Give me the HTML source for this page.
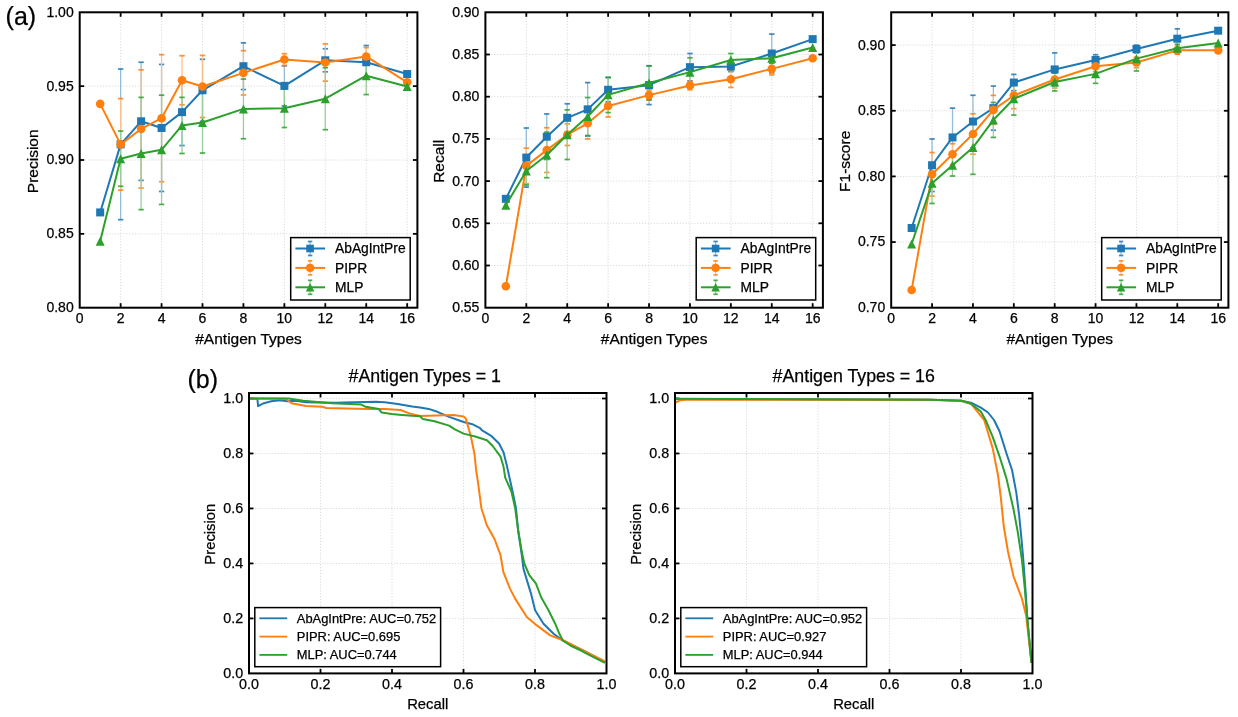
<!DOCTYPE html>
<html><head><meta charset="utf-8"><title>figure</title>
<style>html,body{margin:0;padding:0;background:#fff;width:1238px;height:717px;overflow:hidden}svg{display:block;will-change:transform}</style>
</head><body>
<svg width="1238" height="717" viewBox="0 0 1238 717" font-family='"Liberation Sans", sans-serif'><style>text{stroke:#000;stroke-width:0.25px}</style>
<rect width="1238" height="717" fill="#fff"/>
<line x1="120.63" y1="12.30" x2="120.63" y2="307.70" stroke="#d6d6d6" stroke-width="0.9" stroke-dasharray="1.2 1.7"/>
<line x1="161.57" y1="12.30" x2="161.57" y2="307.70" stroke="#d6d6d6" stroke-width="0.9" stroke-dasharray="1.2 1.7"/>
<line x1="202.50" y1="12.30" x2="202.50" y2="307.70" stroke="#d6d6d6" stroke-width="0.9" stroke-dasharray="1.2 1.7"/>
<line x1="243.43" y1="12.30" x2="243.43" y2="307.70" stroke="#d6d6d6" stroke-width="0.9" stroke-dasharray="1.2 1.7"/>
<line x1="284.37" y1="12.30" x2="284.37" y2="307.70" stroke="#d6d6d6" stroke-width="0.9" stroke-dasharray="1.2 1.7"/>
<line x1="325.30" y1="12.30" x2="325.30" y2="307.70" stroke="#d6d6d6" stroke-width="0.9" stroke-dasharray="1.2 1.7"/>
<line x1="366.23" y1="12.30" x2="366.23" y2="307.70" stroke="#d6d6d6" stroke-width="0.9" stroke-dasharray="1.2 1.7"/>
<line x1="407.17" y1="12.30" x2="407.17" y2="307.70" stroke="#d6d6d6" stroke-width="0.9" stroke-dasharray="1.2 1.7"/>
<line x1="79.70" y1="233.85" x2="417.40" y2="233.85" stroke="#d6d6d6" stroke-width="0.9" stroke-dasharray="1.2 1.7"/>
<line x1="79.70" y1="160.00" x2="417.40" y2="160.00" stroke="#d6d6d6" stroke-width="0.9" stroke-dasharray="1.2 1.7"/>
<line x1="79.70" y1="86.15" x2="417.40" y2="86.15" stroke="#d6d6d6" stroke-width="0.9" stroke-dasharray="1.2 1.7"/>
<line x1="120.63" y1="69.02" x2="120.63" y2="219.67" stroke="#94bcda" stroke-width="1.3"/>
<g stroke="#1f77b4" stroke-opacity="0.85">
<line x1="117.93" y1="69.02" x2="123.33" y2="69.02" stroke-width="1.7"/>
<line x1="117.93" y1="219.67" x2="123.33" y2="219.67" stroke-width="1.7"/>
</g>
<line x1="141.10" y1="62.22" x2="141.10" y2="180.38" stroke="#94bcda" stroke-width="1.3"/>
<g stroke="#1f77b4" stroke-opacity="0.85">
<line x1="138.40" y1="62.22" x2="143.80" y2="62.22" stroke-width="1.7"/>
<line x1="138.40" y1="180.38" x2="143.80" y2="180.38" stroke-width="1.7"/>
</g>
<line x1="161.57" y1="64.44" x2="161.57" y2="191.46" stroke="#94bcda" stroke-width="1.3"/>
<g stroke="#1f77b4" stroke-opacity="0.85">
<line x1="158.87" y1="64.44" x2="164.27" y2="64.44" stroke-width="1.7"/>
<line x1="158.87" y1="191.46" x2="164.27" y2="191.46" stroke-width="1.7"/>
</g>
<line x1="182.03" y1="78.77" x2="182.03" y2="145.53" stroke="#94bcda" stroke-width="1.3"/>
<g stroke="#1f77b4" stroke-opacity="0.85">
<line x1="179.33" y1="78.77" x2="184.73" y2="78.77" stroke-width="1.7"/>
<line x1="179.33" y1="145.53" x2="184.73" y2="145.53" stroke-width="1.7"/>
</g>
<line x1="202.50" y1="59.27" x2="202.50" y2="121.30" stroke="#94bcda" stroke-width="1.3"/>
<g stroke="#1f77b4" stroke-opacity="0.85">
<line x1="199.80" y1="59.27" x2="205.20" y2="59.27" stroke-width="1.7"/>
<line x1="199.80" y1="121.30" x2="205.20" y2="121.30" stroke-width="1.7"/>
</g>
<line x1="243.43" y1="42.87" x2="243.43" y2="89.55" stroke="#94bcda" stroke-width="1.3"/>
<g stroke="#1f77b4" stroke-opacity="0.85">
<line x1="240.73" y1="42.87" x2="246.13" y2="42.87" stroke-width="1.7"/>
<line x1="240.73" y1="89.55" x2="246.13" y2="89.55" stroke-width="1.7"/>
</g>
<line x1="284.37" y1="65.77" x2="284.37" y2="105.94" stroke="#94bcda" stroke-width="1.3"/>
<g stroke="#1f77b4" stroke-opacity="0.85">
<line x1="281.67" y1="65.77" x2="287.07" y2="65.77" stroke-width="1.7"/>
<line x1="281.67" y1="105.94" x2="287.07" y2="105.94" stroke-width="1.7"/>
</g>
<line x1="325.30" y1="48.78" x2="325.30" y2="71.82" stroke="#94bcda" stroke-width="1.3"/>
<g stroke="#1f77b4" stroke-opacity="0.85">
<line x1="322.60" y1="48.78" x2="328.00" y2="48.78" stroke-width="1.7"/>
<line x1="322.60" y1="71.82" x2="328.00" y2="71.82" stroke-width="1.7"/>
</g>
<line x1="366.23" y1="45.53" x2="366.23" y2="78.91" stroke="#94bcda" stroke-width="1.3"/>
<g stroke="#1f77b4" stroke-opacity="0.85">
<line x1="363.53" y1="45.53" x2="368.93" y2="45.53" stroke-width="1.7"/>
<line x1="363.53" y1="78.91" x2="368.93" y2="78.91" stroke-width="1.7"/>
</g>
<line x1="120.63" y1="98.56" x2="120.63" y2="190.13" stroke="#fdbf8c" stroke-width="1.3"/>
<g stroke="#ff7f0e" stroke-opacity="0.85">
<line x1="117.93" y1="98.56" x2="123.33" y2="98.56" stroke-width="1.7"/>
<line x1="117.93" y1="190.13" x2="123.33" y2="190.13" stroke-width="1.7"/>
</g>
<line x1="141.10" y1="69.90" x2="141.10" y2="188.06" stroke="#fdbf8c" stroke-width="1.3"/>
<g stroke="#ff7f0e" stroke-opacity="0.85">
<line x1="138.40" y1="69.90" x2="143.80" y2="69.90" stroke-width="1.7"/>
<line x1="138.40" y1="188.06" x2="143.80" y2="188.06" stroke-width="1.7"/>
</g>
<line x1="161.57" y1="54.69" x2="161.57" y2="181.71" stroke="#fdbf8c" stroke-width="1.3"/>
<g stroke="#ff7f0e" stroke-opacity="0.85">
<line x1="158.87" y1="54.69" x2="164.27" y2="54.69" stroke-width="1.7"/>
<line x1="158.87" y1="181.71" x2="164.27" y2="181.71" stroke-width="1.7"/>
</g>
<line x1="182.03" y1="55.72" x2="182.03" y2="104.76" stroke="#fdbf8c" stroke-width="1.3"/>
<g stroke="#ff7f0e" stroke-opacity="0.85">
<line x1="179.33" y1="55.72" x2="184.73" y2="55.72" stroke-width="1.7"/>
<line x1="179.33" y1="104.76" x2="184.73" y2="104.76" stroke-width="1.7"/>
</g>
<line x1="202.50" y1="55.43" x2="202.50" y2="117.46" stroke="#fdbf8c" stroke-width="1.3"/>
<g stroke="#ff7f0e" stroke-opacity="0.85">
<line x1="199.80" y1="55.43" x2="205.20" y2="55.43" stroke-width="1.7"/>
<line x1="199.80" y1="117.46" x2="205.20" y2="117.46" stroke-width="1.7"/>
</g>
<line x1="243.43" y1="50.70" x2="243.43" y2="95.01" stroke="#fdbf8c" stroke-width="1.3"/>
<g stroke="#ff7f0e" stroke-opacity="0.85">
<line x1="240.73" y1="50.70" x2="246.13" y2="50.70" stroke-width="1.7"/>
<line x1="240.73" y1="95.01" x2="246.13" y2="95.01" stroke-width="1.7"/>
</g>
<line x1="284.37" y1="53.66" x2="284.37" y2="65.47" stroke="#fdbf8c" stroke-width="1.3"/>
<g stroke="#ff7f0e" stroke-opacity="0.85">
<line x1="281.67" y1="53.66" x2="287.07" y2="53.66" stroke-width="1.7"/>
<line x1="281.67" y1="65.47" x2="287.07" y2="65.47" stroke-width="1.7"/>
</g>
<line x1="325.30" y1="43.91" x2="325.30" y2="81.13" stroke="#fdbf8c" stroke-width="1.3"/>
<g stroke="#ff7f0e" stroke-opacity="0.85">
<line x1="322.60" y1="43.91" x2="328.00" y2="43.91" stroke-width="1.7"/>
<line x1="322.60" y1="81.13" x2="328.00" y2="81.13" stroke-width="1.7"/>
</g>
<line x1="366.23" y1="47.60" x2="366.23" y2="65.32" stroke="#fdbf8c" stroke-width="1.3"/>
<g stroke="#ff7f0e" stroke-opacity="0.85">
<line x1="363.53" y1="47.60" x2="368.93" y2="47.60" stroke-width="1.7"/>
<line x1="363.53" y1="65.32" x2="368.93" y2="65.32" stroke-width="1.7"/>
</g>
<line x1="120.63" y1="131.05" x2="120.63" y2="186.29" stroke="#98cf98" stroke-width="1.3"/>
<g stroke="#2ca02c" stroke-opacity="0.85">
<line x1="117.93" y1="131.05" x2="123.33" y2="131.05" stroke-width="1.7"/>
<line x1="117.93" y1="186.29" x2="123.33" y2="186.29" stroke-width="1.7"/>
</g>
<line x1="141.10" y1="97.38" x2="141.10" y2="209.63" stroke="#98cf98" stroke-width="1.3"/>
<g stroke="#2ca02c" stroke-opacity="0.85">
<line x1="138.40" y1="97.38" x2="143.80" y2="97.38" stroke-width="1.7"/>
<line x1="138.40" y1="209.63" x2="143.80" y2="209.63" stroke-width="1.7"/>
</g>
<line x1="161.57" y1="95.16" x2="161.57" y2="204.46" stroke="#98cf98" stroke-width="1.3"/>
<g stroke="#2ca02c" stroke-opacity="0.85">
<line x1="158.87" y1="95.16" x2="164.27" y2="95.16" stroke-width="1.7"/>
<line x1="158.87" y1="204.46" x2="164.27" y2="204.46" stroke-width="1.7"/>
</g>
<line x1="182.03" y1="97.38" x2="182.03" y2="153.50" stroke="#98cf98" stroke-width="1.3"/>
<g stroke="#2ca02c" stroke-opacity="0.85">
<line x1="179.33" y1="97.38" x2="184.73" y2="97.38" stroke-width="1.7"/>
<line x1="179.33" y1="153.50" x2="184.73" y2="153.50" stroke-width="1.7"/>
</g>
<line x1="202.50" y1="91.91" x2="202.50" y2="153.06" stroke="#98cf98" stroke-width="1.3"/>
<g stroke="#2ca02c" stroke-opacity="0.85">
<line x1="199.80" y1="91.91" x2="205.20" y2="91.91" stroke-width="1.7"/>
<line x1="199.80" y1="153.06" x2="205.20" y2="153.06" stroke-width="1.7"/>
</g>
<line x1="243.43" y1="79.06" x2="243.43" y2="138.73" stroke="#98cf98" stroke-width="1.3"/>
<g stroke="#2ca02c" stroke-opacity="0.85">
<line x1="240.73" y1="79.06" x2="246.13" y2="79.06" stroke-width="1.7"/>
<line x1="240.73" y1="138.73" x2="246.13" y2="138.73" stroke-width="1.7"/>
</g>
<line x1="284.37" y1="89.10" x2="284.37" y2="127.51" stroke="#98cf98" stroke-width="1.3"/>
<g stroke="#2ca02c" stroke-opacity="0.85">
<line x1="281.67" y1="89.10" x2="287.07" y2="89.10" stroke-width="1.7"/>
<line x1="281.67" y1="127.51" x2="287.07" y2="127.51" stroke-width="1.7"/>
</g>
<line x1="325.30" y1="67.69" x2="325.30" y2="129.72" stroke="#98cf98" stroke-width="1.3"/>
<g stroke="#2ca02c" stroke-opacity="0.85">
<line x1="322.60" y1="67.69" x2="328.00" y2="67.69" stroke-width="1.7"/>
<line x1="322.60" y1="129.72" x2="328.00" y2="129.72" stroke-width="1.7"/>
</g>
<line x1="366.23" y1="56.76" x2="366.23" y2="94.57" stroke="#98cf98" stroke-width="1.3"/>
<g stroke="#2ca02c" stroke-opacity="0.85">
<line x1="363.53" y1="56.76" x2="368.93" y2="56.76" stroke-width="1.7"/>
<line x1="363.53" y1="94.57" x2="368.93" y2="94.57" stroke-width="1.7"/>
</g>
<polyline points="100.17,212.43 120.63,144.34 141.10,121.30 161.57,127.95 182.03,112.15 202.50,90.29 243.43,66.21 284.37,85.85 325.30,60.30 366.23,62.22 407.17,74.04" fill="none" stroke="#1f77b4" stroke-width="2" stroke-linejoin="round"/>
<rect x="96.17" y="208.43" width="8.00" height="8.00" fill="#1f77b4"/>
<rect x="116.63" y="140.34" width="8.00" height="8.00" fill="#1f77b4"/>
<rect x="137.10" y="117.30" width="8.00" height="8.00" fill="#1f77b4"/>
<rect x="157.57" y="123.95" width="8.00" height="8.00" fill="#1f77b4"/>
<rect x="178.03" y="108.15" width="8.00" height="8.00" fill="#1f77b4"/>
<rect x="198.50" y="86.29" width="8.00" height="8.00" fill="#1f77b4"/>
<rect x="239.43" y="62.21" width="8.00" height="8.00" fill="#1f77b4"/>
<rect x="280.37" y="81.85" width="8.00" height="8.00" fill="#1f77b4"/>
<rect x="321.30" y="56.30" width="8.00" height="8.00" fill="#1f77b4"/>
<rect x="362.23" y="58.22" width="8.00" height="8.00" fill="#1f77b4"/>
<rect x="403.17" y="70.04" width="8.00" height="8.00" fill="#1f77b4"/>
<polyline points="100.17,103.87 120.63,144.34 141.10,128.98 161.57,118.20 182.03,80.24 202.50,86.45 243.43,72.86 284.37,59.56 325.30,62.52 366.23,56.46 407.17,82.31" fill="none" stroke="#ff7f0e" stroke-width="2" stroke-linejoin="round"/>
<circle cx="100.17" cy="103.87" r="4.30" fill="#ff7f0e"/>
<circle cx="120.63" cy="144.34" r="4.30" fill="#ff7f0e"/>
<circle cx="141.10" cy="128.98" r="4.30" fill="#ff7f0e"/>
<circle cx="161.57" cy="118.20" r="4.30" fill="#ff7f0e"/>
<circle cx="182.03" cy="80.24" r="4.30" fill="#ff7f0e"/>
<circle cx="202.50" cy="86.45" r="4.30" fill="#ff7f0e"/>
<circle cx="243.43" cy="72.86" r="4.30" fill="#ff7f0e"/>
<circle cx="284.37" cy="59.56" r="4.30" fill="#ff7f0e"/>
<circle cx="325.30" cy="62.52" r="4.30" fill="#ff7f0e"/>
<circle cx="366.23" cy="56.46" r="4.30" fill="#ff7f0e"/>
<circle cx="407.17" cy="82.31" r="4.30" fill="#ff7f0e"/>
<polyline points="100.17,241.24 120.63,158.67 141.10,153.50 161.57,149.81 182.03,125.44 202.50,122.48 243.43,108.90 284.37,108.30 325.30,98.70 366.23,75.66 407.17,86.45" fill="none" stroke="#2ca02c" stroke-width="2" stroke-linejoin="round"/>
<polygon points="100.17,236.74 95.67,245.74 104.67,245.74" fill="#2ca02c"/>
<polygon points="120.63,154.17 116.13,163.17 125.13,163.17" fill="#2ca02c"/>
<polygon points="141.10,149.00 136.60,158.00 145.60,158.00" fill="#2ca02c"/>
<polygon points="161.57,145.31 157.07,154.31 166.07,154.31" fill="#2ca02c"/>
<polygon points="182.03,120.94 177.53,129.94 186.53,129.94" fill="#2ca02c"/>
<polygon points="202.50,117.98 198.00,126.98 207.00,126.98" fill="#2ca02c"/>
<polygon points="243.43,104.40 238.93,113.40 247.93,113.40" fill="#2ca02c"/>
<polygon points="284.37,103.80 279.87,112.80 288.87,112.80" fill="#2ca02c"/>
<polygon points="325.30,94.20 320.80,103.20 329.80,103.20" fill="#2ca02c"/>
<polygon points="366.23,71.16 361.73,80.16 370.73,80.16" fill="#2ca02c"/>
<polygon points="407.17,81.95 402.67,90.95 411.67,90.95" fill="#2ca02c"/>
<rect x="290.70" y="237.60" width="119.50" height="62.40" fill="#fff" stroke="#000" stroke-width="1.5"/>
<line x1="295.40" y1="248.50" x2="325.10" y2="248.50" stroke="#1f77b4" stroke-width="2"/>
<line x1="310.10" y1="241.50" x2="310.10" y2="255.50" stroke="#94bcda" stroke-width="1.3"/>
<g stroke="#1f77b4" stroke-opacity="0.85"><line x1="307.90" y1="241.50" x2="312.30" y2="241.50" stroke-width="1.7"/><line x1="307.90" y1="255.50" x2="312.30" y2="255.50" stroke-width="1.7"/></g>
<rect x="306.30" y="244.70" width="7.60" height="7.60" fill="#1f77b4"/>
<text x="335.00" y="253.10" font-size="13.8" text-anchor="start" fill="#000">AbAgIntPre</text>
<line x1="295.40" y1="267.90" x2="325.10" y2="267.90" stroke="#ff7f0e" stroke-width="2"/>
<line x1="310.10" y1="260.90" x2="310.10" y2="274.90" stroke="#fdbf8c" stroke-width="1.3"/>
<g stroke="#ff7f0e" stroke-opacity="0.85"><line x1="307.90" y1="260.90" x2="312.30" y2="260.90" stroke-width="1.7"/><line x1="307.90" y1="274.90" x2="312.30" y2="274.90" stroke-width="1.7"/></g>
<circle cx="310.10" cy="267.90" r="4.10" fill="#ff7f0e"/>
<text x="335.00" y="272.50" font-size="13.8" text-anchor="start" fill="#000">PIPR</text>
<line x1="295.40" y1="287.30" x2="325.10" y2="287.30" stroke="#2ca02c" stroke-width="2"/>
<line x1="310.10" y1="280.30" x2="310.10" y2="294.30" stroke="#98cf98" stroke-width="1.3"/>
<g stroke="#2ca02c" stroke-opacity="0.85"><line x1="307.90" y1="280.30" x2="312.30" y2="280.30" stroke-width="1.7"/><line x1="307.90" y1="294.30" x2="312.30" y2="294.30" stroke-width="1.7"/></g>
<polygon points="310.10,283.00 305.80,291.60 314.40,291.60" fill="#2ca02c"/>
<text x="335.00" y="291.90" font-size="13.8" text-anchor="start" fill="#000">MLP</text>
<line x1="120.63" y1="307.70" x2="120.63" y2="303.20" stroke="#000" stroke-width="1.8"/>
<line x1="120.63" y1="12.30" x2="120.63" y2="16.80" stroke="#000" stroke-width="1.8"/>
<line x1="161.57" y1="307.70" x2="161.57" y2="303.20" stroke="#000" stroke-width="1.8"/>
<line x1="161.57" y1="12.30" x2="161.57" y2="16.80" stroke="#000" stroke-width="1.8"/>
<line x1="202.50" y1="307.70" x2="202.50" y2="303.20" stroke="#000" stroke-width="1.8"/>
<line x1="202.50" y1="12.30" x2="202.50" y2="16.80" stroke="#000" stroke-width="1.8"/>
<line x1="243.43" y1="307.70" x2="243.43" y2="303.20" stroke="#000" stroke-width="1.8"/>
<line x1="243.43" y1="12.30" x2="243.43" y2="16.80" stroke="#000" stroke-width="1.8"/>
<line x1="284.37" y1="307.70" x2="284.37" y2="303.20" stroke="#000" stroke-width="1.8"/>
<line x1="284.37" y1="12.30" x2="284.37" y2="16.80" stroke="#000" stroke-width="1.8"/>
<line x1="325.30" y1="307.70" x2="325.30" y2="303.20" stroke="#000" stroke-width="1.8"/>
<line x1="325.30" y1="12.30" x2="325.30" y2="16.80" stroke="#000" stroke-width="1.8"/>
<line x1="366.23" y1="307.70" x2="366.23" y2="303.20" stroke="#000" stroke-width="1.8"/>
<line x1="366.23" y1="12.30" x2="366.23" y2="16.80" stroke="#000" stroke-width="1.8"/>
<line x1="407.17" y1="307.70" x2="407.17" y2="303.20" stroke="#000" stroke-width="1.8"/>
<line x1="407.17" y1="12.30" x2="407.17" y2="16.80" stroke="#000" stroke-width="1.8"/>
<line x1="79.70" y1="233.85" x2="84.20" y2="233.85" stroke="#000" stroke-width="1.8"/>
<line x1="417.40" y1="233.85" x2="412.90" y2="233.85" stroke="#000" stroke-width="1.8"/>
<line x1="79.70" y1="160.00" x2="84.20" y2="160.00" stroke="#000" stroke-width="1.8"/>
<line x1="417.40" y1="160.00" x2="412.90" y2="160.00" stroke="#000" stroke-width="1.8"/>
<line x1="79.70" y1="86.15" x2="84.20" y2="86.15" stroke="#000" stroke-width="1.8"/>
<line x1="417.40" y1="86.15" x2="412.90" y2="86.15" stroke="#000" stroke-width="1.8"/>
<rect x="79.70" y="12.30" width="337.70" height="295.40" fill="none" stroke="#000" stroke-width="2"/>
<text x="79.70" y="322.60" font-size="14" text-anchor="middle" fill="#000">0</text>
<text x="120.63" y="322.60" font-size="14" text-anchor="middle" fill="#000">2</text>
<text x="161.57" y="322.60" font-size="14" text-anchor="middle" fill="#000">4</text>
<text x="202.50" y="322.60" font-size="14" text-anchor="middle" fill="#000">6</text>
<text x="243.43" y="322.60" font-size="14" text-anchor="middle" fill="#000">8</text>
<text x="284.37" y="322.60" font-size="14" text-anchor="middle" fill="#000">10</text>
<text x="325.30" y="322.60" font-size="14" text-anchor="middle" fill="#000">12</text>
<text x="366.23" y="322.60" font-size="14" text-anchor="middle" fill="#000">14</text>
<text x="407.17" y="322.60" font-size="14" text-anchor="middle" fill="#000">16</text>
<text x="73.70" y="312.11" font-size="14" text-anchor="end" fill="#000">0.80</text>
<text x="73.70" y="238.26" font-size="14" text-anchor="end" fill="#000">0.85</text>
<text x="73.70" y="164.41" font-size="14" text-anchor="end" fill="#000">0.90</text>
<text x="73.70" y="90.56" font-size="14" text-anchor="end" fill="#000">0.95</text>
<text x="73.70" y="16.71" font-size="14" text-anchor="end" fill="#000">1.00</text>
<text x="248.55" y="343.80" font-size="15.5" text-anchor="middle" fill="#000">#Antigen Types</text>
<text x="38.50" y="161.30" font-size="15.5" text-anchor="middle" fill="#000" transform="rotate(-90 38.50 161.30)">Precision</text>
<line x1="526.31" y1="12.30" x2="526.31" y2="307.70" stroke="#d6d6d6" stroke-width="0.9" stroke-dasharray="1.2 1.7"/>
<line x1="567.22" y1="12.30" x2="567.22" y2="307.70" stroke="#d6d6d6" stroke-width="0.9" stroke-dasharray="1.2 1.7"/>
<line x1="608.13" y1="12.30" x2="608.13" y2="307.70" stroke="#d6d6d6" stroke-width="0.9" stroke-dasharray="1.2 1.7"/>
<line x1="649.04" y1="12.30" x2="649.04" y2="307.70" stroke="#d6d6d6" stroke-width="0.9" stroke-dasharray="1.2 1.7"/>
<line x1="689.95" y1="12.30" x2="689.95" y2="307.70" stroke="#d6d6d6" stroke-width="0.9" stroke-dasharray="1.2 1.7"/>
<line x1="730.85" y1="12.30" x2="730.85" y2="307.70" stroke="#d6d6d6" stroke-width="0.9" stroke-dasharray="1.2 1.7"/>
<line x1="771.76" y1="12.30" x2="771.76" y2="307.70" stroke="#d6d6d6" stroke-width="0.9" stroke-dasharray="1.2 1.7"/>
<line x1="812.67" y1="12.30" x2="812.67" y2="307.70" stroke="#d6d6d6" stroke-width="0.9" stroke-dasharray="1.2 1.7"/>
<line x1="485.40" y1="265.50" x2="822.90" y2="265.50" stroke="#d6d6d6" stroke-width="0.9" stroke-dasharray="1.2 1.7"/>
<line x1="485.40" y1="223.30" x2="822.90" y2="223.30" stroke="#d6d6d6" stroke-width="0.9" stroke-dasharray="1.2 1.7"/>
<line x1="485.40" y1="181.10" x2="822.90" y2="181.10" stroke="#d6d6d6" stroke-width="0.9" stroke-dasharray="1.2 1.7"/>
<line x1="485.40" y1="138.90" x2="822.90" y2="138.90" stroke="#d6d6d6" stroke-width="0.9" stroke-dasharray="1.2 1.7"/>
<line x1="485.40" y1="96.70" x2="822.90" y2="96.70" stroke="#d6d6d6" stroke-width="0.9" stroke-dasharray="1.2 1.7"/>
<line x1="485.40" y1="54.50" x2="822.90" y2="54.50" stroke="#d6d6d6" stroke-width="0.9" stroke-dasharray="1.2 1.7"/>
<line x1="526.31" y1="128.01" x2="526.31" y2="187.09" stroke="#94bcda" stroke-width="1.3"/>
<g stroke="#1f77b4" stroke-opacity="0.85">
<line x1="523.61" y1="128.01" x2="529.01" y2="128.01" stroke-width="1.7"/>
<line x1="523.61" y1="187.09" x2="529.01" y2="187.09" stroke-width="1.7"/>
</g>
<line x1="546.76" y1="113.92" x2="546.76" y2="159.49" stroke="#94bcda" stroke-width="1.3"/>
<g stroke="#1f77b4" stroke-opacity="0.85">
<line x1="544.06" y1="113.92" x2="549.46" y2="113.92" stroke-width="1.7"/>
<line x1="544.06" y1="159.49" x2="549.46" y2="159.49" stroke-width="1.7"/>
</g>
<line x1="567.22" y1="103.79" x2="567.22" y2="131.81" stroke="#94bcda" stroke-width="1.3"/>
<g stroke="#1f77b4" stroke-opacity="0.85">
<line x1="564.52" y1="103.79" x2="569.92" y2="103.79" stroke-width="1.7"/>
<line x1="564.52" y1="131.81" x2="569.92" y2="131.81" stroke-width="1.7"/>
</g>
<line x1="587.67" y1="82.61" x2="587.67" y2="136.11" stroke="#94bcda" stroke-width="1.3"/>
<g stroke="#1f77b4" stroke-opacity="0.85">
<line x1="584.97" y1="82.61" x2="590.37" y2="82.61" stroke-width="1.7"/>
<line x1="584.97" y1="136.11" x2="590.37" y2="136.11" stroke-width="1.7"/>
</g>
<line x1="608.13" y1="77.79" x2="608.13" y2="101.76" stroke="#94bcda" stroke-width="1.3"/>
<g stroke="#1f77b4" stroke-opacity="0.85">
<line x1="605.43" y1="77.79" x2="610.83" y2="77.79" stroke-width="1.7"/>
<line x1="605.43" y1="101.76" x2="610.83" y2="101.76" stroke-width="1.7"/>
</g>
<line x1="649.04" y1="65.73" x2="649.04" y2="104.55" stroke="#94bcda" stroke-width="1.3"/>
<g stroke="#1f77b4" stroke-opacity="0.85">
<line x1="646.34" y1="65.73" x2="651.74" y2="65.73" stroke-width="1.7"/>
<line x1="646.34" y1="104.55" x2="651.74" y2="104.55" stroke-width="1.7"/>
</g>
<line x1="689.95" y1="53.49" x2="689.95" y2="80.83" stroke="#94bcda" stroke-width="1.3"/>
<g stroke="#1f77b4" stroke-opacity="0.85">
<line x1="687.25" y1="53.49" x2="692.65" y2="53.49" stroke-width="1.7"/>
<line x1="687.25" y1="80.83" x2="692.65" y2="80.83" stroke-width="1.7"/>
</g>
<line x1="730.85" y1="61.51" x2="730.85" y2="71.63" stroke="#94bcda" stroke-width="1.3"/>
<g stroke="#1f77b4" stroke-opacity="0.85">
<line x1="728.15" y1="61.51" x2="733.55" y2="61.51" stroke-width="1.7"/>
<line x1="728.15" y1="71.63" x2="733.55" y2="71.63" stroke-width="1.7"/>
</g>
<line x1="771.76" y1="34.08" x2="771.76" y2="72.90" stroke="#94bcda" stroke-width="1.3"/>
<g stroke="#1f77b4" stroke-opacity="0.85">
<line x1="769.06" y1="34.08" x2="774.46" y2="34.08" stroke-width="1.7"/>
<line x1="769.06" y1="72.90" x2="774.46" y2="72.90" stroke-width="1.7"/>
</g>
<line x1="526.31" y1="148.18" x2="526.31" y2="183.63" stroke="#fdbf8c" stroke-width="1.3"/>
<g stroke="#ff7f0e" stroke-opacity="0.85">
<line x1="523.61" y1="148.18" x2="529.01" y2="148.18" stroke-width="1.7"/>
<line x1="523.61" y1="183.63" x2="529.01" y2="183.63" stroke-width="1.7"/>
</g>
<line x1="546.76" y1="127.76" x2="546.76" y2="172.49" stroke="#fdbf8c" stroke-width="1.3"/>
<g stroke="#ff7f0e" stroke-opacity="0.85">
<line x1="544.06" y1="127.76" x2="549.46" y2="127.76" stroke-width="1.7"/>
<line x1="544.06" y1="172.49" x2="549.46" y2="172.49" stroke-width="1.7"/>
</g>
<line x1="567.22" y1="123.88" x2="567.22" y2="145.48" stroke="#fdbf8c" stroke-width="1.3"/>
<g stroke="#ff7f0e" stroke-opacity="0.85">
<line x1="564.52" y1="123.88" x2="569.92" y2="123.88" stroke-width="1.7"/>
<line x1="564.52" y1="145.48" x2="569.92" y2="145.48" stroke-width="1.7"/>
</g>
<line x1="587.67" y1="107.59" x2="587.67" y2="138.98" stroke="#fdbf8c" stroke-width="1.3"/>
<g stroke="#ff7f0e" stroke-opacity="0.85">
<line x1="584.97" y1="107.59" x2="590.37" y2="107.59" stroke-width="1.7"/>
<line x1="584.97" y1="138.98" x2="590.37" y2="138.98" stroke-width="1.7"/>
</g>
<line x1="608.13" y1="95.10" x2="608.13" y2="116.87" stroke="#fdbf8c" stroke-width="1.3"/>
<g stroke="#ff7f0e" stroke-opacity="0.85">
<line x1="605.43" y1="95.10" x2="610.83" y2="95.10" stroke-width="1.7"/>
<line x1="605.43" y1="116.87" x2="610.83" y2="116.87" stroke-width="1.7"/>
</g>
<line x1="649.04" y1="90.03" x2="649.04" y2="100.16" stroke="#fdbf8c" stroke-width="1.3"/>
<g stroke="#ff7f0e" stroke-opacity="0.85">
<line x1="646.34" y1="90.03" x2="651.74" y2="90.03" stroke-width="1.7"/>
<line x1="646.34" y1="100.16" x2="651.74" y2="100.16" stroke-width="1.7"/>
</g>
<line x1="689.95" y1="81.34" x2="689.95" y2="89.78" stroke="#fdbf8c" stroke-width="1.3"/>
<g stroke="#ff7f0e" stroke-opacity="0.85">
<line x1="687.25" y1="81.34" x2="692.65" y2="81.34" stroke-width="1.7"/>
<line x1="687.25" y1="89.78" x2="692.65" y2="89.78" stroke-width="1.7"/>
</g>
<line x1="730.85" y1="71.04" x2="730.85" y2="87.42" stroke="#fdbf8c" stroke-width="1.3"/>
<g stroke="#ff7f0e" stroke-opacity="0.85">
<line x1="728.15" y1="71.04" x2="733.55" y2="71.04" stroke-width="1.7"/>
<line x1="728.15" y1="87.42" x2="733.55" y2="87.42" stroke-width="1.7"/>
</g>
<line x1="771.76" y1="62.77" x2="771.76" y2="74.92" stroke="#fdbf8c" stroke-width="1.3"/>
<g stroke="#ff7f0e" stroke-opacity="0.85">
<line x1="769.06" y1="62.77" x2="774.46" y2="62.77" stroke-width="1.7"/>
<line x1="769.06" y1="74.92" x2="774.46" y2="74.92" stroke-width="1.7"/>
</g>
<line x1="526.31" y1="156.96" x2="526.31" y2="184.98" stroke="#98cf98" stroke-width="1.3"/>
<g stroke="#2ca02c" stroke-opacity="0.85">
<line x1="523.61" y1="156.96" x2="529.01" y2="156.96" stroke-width="1.7"/>
<line x1="523.61" y1="184.98" x2="529.01" y2="184.98" stroke-width="1.7"/>
</g>
<line x1="546.76" y1="132.15" x2="546.76" y2="177.72" stroke="#98cf98" stroke-width="1.3"/>
<g stroke="#2ca02c" stroke-opacity="0.85">
<line x1="544.06" y1="132.15" x2="549.46" y2="132.15" stroke-width="1.7"/>
<line x1="544.06" y1="177.72" x2="549.46" y2="177.72" stroke-width="1.7"/>
</g>
<line x1="567.22" y1="109.87" x2="567.22" y2="159.49" stroke="#98cf98" stroke-width="1.3"/>
<g stroke="#2ca02c" stroke-opacity="0.85">
<line x1="564.52" y1="109.87" x2="569.92" y2="109.87" stroke-width="1.7"/>
<line x1="564.52" y1="159.49" x2="569.92" y2="159.49" stroke-width="1.7"/>
</g>
<line x1="587.67" y1="97.54" x2="587.67" y2="135.52" stroke="#98cf98" stroke-width="1.3"/>
<g stroke="#2ca02c" stroke-opacity="0.85">
<line x1="584.97" y1="97.54" x2="590.37" y2="97.54" stroke-width="1.7"/>
<line x1="584.97" y1="135.52" x2="590.37" y2="135.52" stroke-width="1.7"/>
</g>
<line x1="608.13" y1="77.12" x2="608.13" y2="112.57" stroke="#98cf98" stroke-width="1.3"/>
<g stroke="#2ca02c" stroke-opacity="0.85">
<line x1="605.43" y1="77.12" x2="610.83" y2="77.12" stroke-width="1.7"/>
<line x1="605.43" y1="112.57" x2="610.83" y2="112.57" stroke-width="1.7"/>
</g>
<line x1="649.04" y1="66.06" x2="649.04" y2="99.82" stroke="#98cf98" stroke-width="1.3"/>
<g stroke="#2ca02c" stroke-opacity="0.85">
<line x1="646.34" y1="66.06" x2="651.74" y2="66.06" stroke-width="1.7"/>
<line x1="646.34" y1="99.82" x2="651.74" y2="99.82" stroke-width="1.7"/>
</g>
<line x1="689.95" y1="57.79" x2="689.95" y2="86.49" stroke="#98cf98" stroke-width="1.3"/>
<g stroke="#2ca02c" stroke-opacity="0.85">
<line x1="687.25" y1="57.79" x2="692.65" y2="57.79" stroke-width="1.7"/>
<line x1="687.25" y1="86.49" x2="692.65" y2="86.49" stroke-width="1.7"/>
</g>
<line x1="730.85" y1="53.49" x2="730.85" y2="66.48" stroke="#98cf98" stroke-width="1.3"/>
<g stroke="#2ca02c" stroke-opacity="0.85">
<line x1="728.15" y1="53.49" x2="733.55" y2="53.49" stroke-width="1.7"/>
<line x1="728.15" y1="66.48" x2="733.55" y2="66.48" stroke-width="1.7"/>
</g>
<line x1="771.76" y1="53.15" x2="771.76" y2="63.28" stroke="#98cf98" stroke-width="1.3"/>
<g stroke="#2ca02c" stroke-opacity="0.85">
<line x1="769.06" y1="53.15" x2="774.46" y2="53.15" stroke-width="1.7"/>
<line x1="769.06" y1="63.28" x2="774.46" y2="63.28" stroke-width="1.7"/>
</g>
<polyline points="505.85,198.82 526.31,157.55 546.76,136.71 567.22,117.80 587.67,109.36 608.13,89.78 649.04,85.14 689.95,67.16 730.85,66.57 771.76,53.49 812.67,39.14" fill="none" stroke="#1f77b4" stroke-width="2" stroke-linejoin="round"/>
<rect x="501.85" y="194.82" width="8.00" height="8.00" fill="#1f77b4"/>
<rect x="522.31" y="153.55" width="8.00" height="8.00" fill="#1f77b4"/>
<rect x="542.76" y="132.71" width="8.00" height="8.00" fill="#1f77b4"/>
<rect x="563.22" y="113.80" width="8.00" height="8.00" fill="#1f77b4"/>
<rect x="583.67" y="105.36" width="8.00" height="8.00" fill="#1f77b4"/>
<rect x="604.13" y="85.78" width="8.00" height="8.00" fill="#1f77b4"/>
<rect x="645.04" y="81.14" width="8.00" height="8.00" fill="#1f77b4"/>
<rect x="685.95" y="63.16" width="8.00" height="8.00" fill="#1f77b4"/>
<rect x="726.85" y="62.57" width="8.00" height="8.00" fill="#1f77b4"/>
<rect x="767.76" y="49.49" width="8.00" height="8.00" fill="#1f77b4"/>
<rect x="808.67" y="35.14" width="8.00" height="8.00" fill="#1f77b4"/>
<polyline points="505.85,286.18 526.31,165.91 546.76,150.13 567.22,134.68 587.67,123.29 608.13,105.98 649.04,95.10 689.95,85.56 730.85,79.23 771.76,68.85 812.67,58.21" fill="none" stroke="#ff7f0e" stroke-width="2" stroke-linejoin="round"/>
<circle cx="505.85" cy="286.18" r="4.30" fill="#ff7f0e"/>
<circle cx="526.31" cy="165.91" r="4.30" fill="#ff7f0e"/>
<circle cx="546.76" cy="150.13" r="4.30" fill="#ff7f0e"/>
<circle cx="567.22" cy="134.68" r="4.30" fill="#ff7f0e"/>
<circle cx="587.67" cy="123.29" r="4.30" fill="#ff7f0e"/>
<circle cx="608.13" cy="105.98" r="4.30" fill="#ff7f0e"/>
<circle cx="649.04" cy="95.10" r="4.30" fill="#ff7f0e"/>
<circle cx="689.95" cy="85.56" r="4.30" fill="#ff7f0e"/>
<circle cx="730.85" cy="79.23" r="4.30" fill="#ff7f0e"/>
<circle cx="771.76" cy="68.85" r="4.30" fill="#ff7f0e"/>
<circle cx="812.67" cy="58.21" r="4.30" fill="#ff7f0e"/>
<polyline points="505.85,205.15 526.31,170.97 546.76,154.94 567.22,134.68 587.67,116.53 608.13,94.84 649.04,82.94 689.95,72.14 730.85,59.99 771.76,58.21 812.67,47.58" fill="none" stroke="#2ca02c" stroke-width="2" stroke-linejoin="round"/>
<polygon points="505.85,200.65 501.35,209.65 510.35,209.65" fill="#2ca02c"/>
<polygon points="526.31,166.47 521.81,175.47 530.81,175.47" fill="#2ca02c"/>
<polygon points="546.76,150.44 542.26,159.44 551.26,159.44" fill="#2ca02c"/>
<polygon points="567.22,130.18 562.72,139.18 571.72,139.18" fill="#2ca02c"/>
<polygon points="587.67,112.03 583.17,121.03 592.17,121.03" fill="#2ca02c"/>
<polygon points="608.13,90.34 603.63,99.34 612.63,99.34" fill="#2ca02c"/>
<polygon points="649.04,78.44 644.54,87.44 653.54,87.44" fill="#2ca02c"/>
<polygon points="689.95,67.64 685.45,76.64 694.45,76.64" fill="#2ca02c"/>
<polygon points="730.85,55.49 726.35,64.49 735.35,64.49" fill="#2ca02c"/>
<polygon points="771.76,53.71 767.26,62.71 776.26,62.71" fill="#2ca02c"/>
<polygon points="812.67,43.08 808.17,52.08 817.17,52.08" fill="#2ca02c"/>
<rect x="696.20" y="237.60" width="119.50" height="62.40" fill="#fff" stroke="#000" stroke-width="1.5"/>
<line x1="700.90" y1="248.50" x2="730.60" y2="248.50" stroke="#1f77b4" stroke-width="2"/>
<line x1="715.60" y1="241.50" x2="715.60" y2="255.50" stroke="#94bcda" stroke-width="1.3"/>
<g stroke="#1f77b4" stroke-opacity="0.85"><line x1="713.40" y1="241.50" x2="717.80" y2="241.50" stroke-width="1.7"/><line x1="713.40" y1="255.50" x2="717.80" y2="255.50" stroke-width="1.7"/></g>
<rect x="711.80" y="244.70" width="7.60" height="7.60" fill="#1f77b4"/>
<text x="740.50" y="253.10" font-size="13.8" text-anchor="start" fill="#000">AbAgIntPre</text>
<line x1="700.90" y1="267.90" x2="730.60" y2="267.90" stroke="#ff7f0e" stroke-width="2"/>
<line x1="715.60" y1="260.90" x2="715.60" y2="274.90" stroke="#fdbf8c" stroke-width="1.3"/>
<g stroke="#ff7f0e" stroke-opacity="0.85"><line x1="713.40" y1="260.90" x2="717.80" y2="260.90" stroke-width="1.7"/><line x1="713.40" y1="274.90" x2="717.80" y2="274.90" stroke-width="1.7"/></g>
<circle cx="715.60" cy="267.90" r="4.10" fill="#ff7f0e"/>
<text x="740.50" y="272.50" font-size="13.8" text-anchor="start" fill="#000">PIPR</text>
<line x1="700.90" y1="287.30" x2="730.60" y2="287.30" stroke="#2ca02c" stroke-width="2"/>
<line x1="715.60" y1="280.30" x2="715.60" y2="294.30" stroke="#98cf98" stroke-width="1.3"/>
<g stroke="#2ca02c" stroke-opacity="0.85"><line x1="713.40" y1="280.30" x2="717.80" y2="280.30" stroke-width="1.7"/><line x1="713.40" y1="294.30" x2="717.80" y2="294.30" stroke-width="1.7"/></g>
<polygon points="715.60,283.00 711.30,291.60 719.90,291.60" fill="#2ca02c"/>
<text x="740.50" y="291.90" font-size="13.8" text-anchor="start" fill="#000">MLP</text>
<line x1="526.31" y1="307.70" x2="526.31" y2="303.20" stroke="#000" stroke-width="1.8"/>
<line x1="526.31" y1="12.30" x2="526.31" y2="16.80" stroke="#000" stroke-width="1.8"/>
<line x1="567.22" y1="307.70" x2="567.22" y2="303.20" stroke="#000" stroke-width="1.8"/>
<line x1="567.22" y1="12.30" x2="567.22" y2="16.80" stroke="#000" stroke-width="1.8"/>
<line x1="608.13" y1="307.70" x2="608.13" y2="303.20" stroke="#000" stroke-width="1.8"/>
<line x1="608.13" y1="12.30" x2="608.13" y2="16.80" stroke="#000" stroke-width="1.8"/>
<line x1="649.04" y1="307.70" x2="649.04" y2="303.20" stroke="#000" stroke-width="1.8"/>
<line x1="649.04" y1="12.30" x2="649.04" y2="16.80" stroke="#000" stroke-width="1.8"/>
<line x1="689.95" y1="307.70" x2="689.95" y2="303.20" stroke="#000" stroke-width="1.8"/>
<line x1="689.95" y1="12.30" x2="689.95" y2="16.80" stroke="#000" stroke-width="1.8"/>
<line x1="730.85" y1="307.70" x2="730.85" y2="303.20" stroke="#000" stroke-width="1.8"/>
<line x1="730.85" y1="12.30" x2="730.85" y2="16.80" stroke="#000" stroke-width="1.8"/>
<line x1="771.76" y1="307.70" x2="771.76" y2="303.20" stroke="#000" stroke-width="1.8"/>
<line x1="771.76" y1="12.30" x2="771.76" y2="16.80" stroke="#000" stroke-width="1.8"/>
<line x1="812.67" y1="307.70" x2="812.67" y2="303.20" stroke="#000" stroke-width="1.8"/>
<line x1="812.67" y1="12.30" x2="812.67" y2="16.80" stroke="#000" stroke-width="1.8"/>
<line x1="485.40" y1="265.50" x2="489.90" y2="265.50" stroke="#000" stroke-width="1.8"/>
<line x1="822.90" y1="265.50" x2="818.40" y2="265.50" stroke="#000" stroke-width="1.8"/>
<line x1="485.40" y1="223.30" x2="489.90" y2="223.30" stroke="#000" stroke-width="1.8"/>
<line x1="822.90" y1="223.30" x2="818.40" y2="223.30" stroke="#000" stroke-width="1.8"/>
<line x1="485.40" y1="181.10" x2="489.90" y2="181.10" stroke="#000" stroke-width="1.8"/>
<line x1="822.90" y1="181.10" x2="818.40" y2="181.10" stroke="#000" stroke-width="1.8"/>
<line x1="485.40" y1="138.90" x2="489.90" y2="138.90" stroke="#000" stroke-width="1.8"/>
<line x1="822.90" y1="138.90" x2="818.40" y2="138.90" stroke="#000" stroke-width="1.8"/>
<line x1="485.40" y1="96.70" x2="489.90" y2="96.70" stroke="#000" stroke-width="1.8"/>
<line x1="822.90" y1="96.70" x2="818.40" y2="96.70" stroke="#000" stroke-width="1.8"/>
<line x1="485.40" y1="54.50" x2="489.90" y2="54.50" stroke="#000" stroke-width="1.8"/>
<line x1="822.90" y1="54.50" x2="818.40" y2="54.50" stroke="#000" stroke-width="1.8"/>
<rect x="485.40" y="12.30" width="337.50" height="295.40" fill="none" stroke="#000" stroke-width="2"/>
<text x="485.40" y="322.60" font-size="14" text-anchor="middle" fill="#000">0</text>
<text x="526.31" y="322.60" font-size="14" text-anchor="middle" fill="#000">2</text>
<text x="567.22" y="322.60" font-size="14" text-anchor="middle" fill="#000">4</text>
<text x="608.13" y="322.60" font-size="14" text-anchor="middle" fill="#000">6</text>
<text x="649.04" y="322.60" font-size="14" text-anchor="middle" fill="#000">8</text>
<text x="689.95" y="322.60" font-size="14" text-anchor="middle" fill="#000">10</text>
<text x="730.85" y="322.60" font-size="14" text-anchor="middle" fill="#000">12</text>
<text x="771.76" y="322.60" font-size="14" text-anchor="middle" fill="#000">14</text>
<text x="812.67" y="322.60" font-size="14" text-anchor="middle" fill="#000">16</text>
<text x="479.40" y="312.11" font-size="14" text-anchor="end" fill="#000">0.55</text>
<text x="479.40" y="269.91" font-size="14" text-anchor="end" fill="#000">0.60</text>
<text x="479.40" y="227.71" font-size="14" text-anchor="end" fill="#000">0.65</text>
<text x="479.40" y="185.51" font-size="14" text-anchor="end" fill="#000">0.70</text>
<text x="479.40" y="143.31" font-size="14" text-anchor="end" fill="#000">0.75</text>
<text x="479.40" y="101.11" font-size="14" text-anchor="end" fill="#000">0.80</text>
<text x="479.40" y="58.91" font-size="14" text-anchor="end" fill="#000">0.85</text>
<text x="479.40" y="16.71" font-size="14" text-anchor="end" fill="#000">0.90</text>
<text x="654.15" y="343.80" font-size="15.5" text-anchor="middle" fill="#000">#Antigen Types</text>
<text x="444.20" y="161.30" font-size="15.5" text-anchor="middle" fill="#000" transform="rotate(-90 444.20 161.30)">Recall</text>
<line x1="932.07" y1="12.30" x2="932.07" y2="307.70" stroke="#d6d6d6" stroke-width="0.9" stroke-dasharray="1.2 1.7"/>
<line x1="972.95" y1="12.30" x2="972.95" y2="307.70" stroke="#d6d6d6" stroke-width="0.9" stroke-dasharray="1.2 1.7"/>
<line x1="1013.82" y1="12.30" x2="1013.82" y2="307.70" stroke="#d6d6d6" stroke-width="0.9" stroke-dasharray="1.2 1.7"/>
<line x1="1054.69" y1="12.30" x2="1054.69" y2="307.70" stroke="#d6d6d6" stroke-width="0.9" stroke-dasharray="1.2 1.7"/>
<line x1="1095.56" y1="12.30" x2="1095.56" y2="307.70" stroke="#d6d6d6" stroke-width="0.9" stroke-dasharray="1.2 1.7"/>
<line x1="1136.44" y1="12.30" x2="1136.44" y2="307.70" stroke="#d6d6d6" stroke-width="0.9" stroke-dasharray="1.2 1.7"/>
<line x1="1177.31" y1="12.30" x2="1177.31" y2="307.70" stroke="#d6d6d6" stroke-width="0.9" stroke-dasharray="1.2 1.7"/>
<line x1="1218.18" y1="12.30" x2="1218.18" y2="307.70" stroke="#d6d6d6" stroke-width="0.9" stroke-dasharray="1.2 1.7"/>
<line x1="891.20" y1="242.06" x2="1228.40" y2="242.06" stroke="#d6d6d6" stroke-width="0.9" stroke-dasharray="1.2 1.7"/>
<line x1="891.20" y1="176.41" x2="1228.40" y2="176.41" stroke="#d6d6d6" stroke-width="0.9" stroke-dasharray="1.2 1.7"/>
<line x1="891.20" y1="110.77" x2="1228.40" y2="110.77" stroke="#d6d6d6" stroke-width="0.9" stroke-dasharray="1.2 1.7"/>
<line x1="891.20" y1="45.12" x2="1228.40" y2="45.12" stroke="#d6d6d6" stroke-width="0.9" stroke-dasharray="1.2 1.7"/>
<line x1="932.07" y1="138.99" x2="932.07" y2="191.51" stroke="#94bcda" stroke-width="1.3"/>
<g stroke="#1f77b4" stroke-opacity="0.85">
<line x1="929.37" y1="138.99" x2="934.77" y2="138.99" stroke-width="1.7"/>
<line x1="929.37" y1="191.51" x2="934.77" y2="191.51" stroke-width="1.7"/>
</g>
<line x1="952.51" y1="108.14" x2="952.51" y2="166.70" stroke="#94bcda" stroke-width="1.3"/>
<g stroke="#1f77b4" stroke-opacity="0.85">
<line x1="949.81" y1="108.14" x2="955.21" y2="108.14" stroke-width="1.7"/>
<line x1="949.81" y1="166.70" x2="955.21" y2="166.70" stroke-width="1.7"/>
</g>
<line x1="972.95" y1="95.27" x2="972.95" y2="147.79" stroke="#94bcda" stroke-width="1.3"/>
<g stroke="#1f77b4" stroke-opacity="0.85">
<line x1="970.25" y1="95.27" x2="975.65" y2="95.27" stroke-width="1.7"/>
<line x1="970.25" y1="147.79" x2="975.65" y2="147.79" stroke-width="1.7"/>
</g>
<line x1="993.38" y1="86.08" x2="993.38" y2="130.20" stroke="#94bcda" stroke-width="1.3"/>
<g stroke="#1f77b4" stroke-opacity="0.85">
<line x1="990.68" y1="86.08" x2="996.08" y2="86.08" stroke-width="1.7"/>
<line x1="990.68" y1="130.20" x2="996.08" y2="130.20" stroke-width="1.7"/>
</g>
<line x1="1013.82" y1="74.40" x2="1013.82" y2="90.68" stroke="#94bcda" stroke-width="1.3"/>
<g stroke="#1f77b4" stroke-opacity="0.85">
<line x1="1011.12" y1="74.40" x2="1016.52" y2="74.40" stroke-width="1.7"/>
<line x1="1011.12" y1="90.68" x2="1016.52" y2="90.68" stroke-width="1.7"/>
</g>
<line x1="1054.69" y1="52.87" x2="1054.69" y2="85.95" stroke="#94bcda" stroke-width="1.3"/>
<g stroke="#1f77b4" stroke-opacity="0.85">
<line x1="1051.99" y1="52.87" x2="1057.39" y2="52.87" stroke-width="1.7"/>
<line x1="1051.99" y1="85.95" x2="1057.39" y2="85.95" stroke-width="1.7"/>
</g>
<line x1="1095.56" y1="54.71" x2="1095.56" y2="65.21" stroke="#94bcda" stroke-width="1.3"/>
<g stroke="#1f77b4" stroke-opacity="0.85">
<line x1="1092.86" y1="54.71" x2="1098.26" y2="54.71" stroke-width="1.7"/>
<line x1="1092.86" y1="65.21" x2="1098.26" y2="65.21" stroke-width="1.7"/>
</g>
<line x1="1136.44" y1="45.12" x2="1136.44" y2="53.00" stroke="#94bcda" stroke-width="1.3"/>
<g stroke="#1f77b4" stroke-opacity="0.85">
<line x1="1133.74" y1="45.12" x2="1139.14" y2="45.12" stroke-width="1.7"/>
<line x1="1133.74" y1="53.00" x2="1139.14" y2="53.00" stroke-width="1.7"/>
</g>
<line x1="1177.31" y1="28.84" x2="1177.31" y2="48.54" stroke="#94bcda" stroke-width="1.3"/>
<g stroke="#1f77b4" stroke-opacity="0.85">
<line x1="1174.61" y1="28.84" x2="1180.01" y2="28.84" stroke-width="1.7"/>
<line x1="1174.61" y1="48.54" x2="1180.01" y2="48.54" stroke-width="1.7"/>
</g>
<line x1="932.07" y1="152.52" x2="932.07" y2="196.10" stroke="#fdbf8c" stroke-width="1.3"/>
<g stroke="#ff7f0e" stroke-opacity="0.85">
<line x1="929.37" y1="152.52" x2="934.77" y2="152.52" stroke-width="1.7"/>
<line x1="929.37" y1="196.10" x2="934.77" y2="196.10" stroke-width="1.7"/>
</g>
<line x1="952.51" y1="143.72" x2="952.51" y2="164.73" stroke="#fdbf8c" stroke-width="1.3"/>
<g stroke="#ff7f0e" stroke-opacity="0.85">
<line x1="949.81" y1="143.72" x2="955.21" y2="143.72" stroke-width="1.7"/>
<line x1="949.81" y1="164.73" x2="955.21" y2="164.73" stroke-width="1.7"/>
</g>
<line x1="972.95" y1="113.79" x2="972.95" y2="154.22" stroke="#fdbf8c" stroke-width="1.3"/>
<g stroke="#ff7f0e" stroke-opacity="0.85">
<line x1="970.25" y1="113.79" x2="975.65" y2="113.79" stroke-width="1.7"/>
<line x1="970.25" y1="154.22" x2="975.65" y2="154.22" stroke-width="1.7"/>
</g>
<line x1="993.38" y1="95.41" x2="993.38" y2="124.29" stroke="#fdbf8c" stroke-width="1.3"/>
<g stroke="#ff7f0e" stroke-opacity="0.85">
<line x1="990.68" y1="95.41" x2="996.08" y2="95.41" stroke-width="1.7"/>
<line x1="990.68" y1="124.29" x2="996.08" y2="124.29" stroke-width="1.7"/>
</g>
<line x1="1013.82" y1="82.41" x2="1013.82" y2="108.67" stroke="#fdbf8c" stroke-width="1.3"/>
<g stroke="#ff7f0e" stroke-opacity="0.85">
<line x1="1011.12" y1="82.41" x2="1016.52" y2="82.41" stroke-width="1.7"/>
<line x1="1011.12" y1="108.67" x2="1016.52" y2="108.67" stroke-width="1.7"/>
</g>
<line x1="1054.69" y1="70.99" x2="1054.69" y2="88.05" stroke="#fdbf8c" stroke-width="1.3"/>
<g stroke="#ff7f0e" stroke-opacity="0.85">
<line x1="1051.99" y1="70.99" x2="1057.39" y2="70.99" stroke-width="1.7"/>
<line x1="1051.99" y1="88.05" x2="1057.39" y2="88.05" stroke-width="1.7"/>
</g>
<line x1="1095.56" y1="61.01" x2="1095.56" y2="71.51" stroke="#fdbf8c" stroke-width="1.3"/>
<g stroke="#ff7f0e" stroke-opacity="0.85">
<line x1="1092.86" y1="61.01" x2="1098.26" y2="61.01" stroke-width="1.7"/>
<line x1="1092.86" y1="71.51" x2="1098.26" y2="71.51" stroke-width="1.7"/>
</g>
<line x1="1136.44" y1="57.20" x2="1136.44" y2="67.70" stroke="#fdbf8c" stroke-width="1.3"/>
<g stroke="#ff7f0e" stroke-opacity="0.85">
<line x1="1133.74" y1="57.20" x2="1139.14" y2="57.20" stroke-width="1.7"/>
<line x1="1133.74" y1="67.70" x2="1139.14" y2="67.70" stroke-width="1.7"/>
</g>
<line x1="1177.31" y1="46.44" x2="1177.31" y2="54.31" stroke="#fdbf8c" stroke-width="1.3"/>
<g stroke="#ff7f0e" stroke-opacity="0.85">
<line x1="1174.61" y1="46.44" x2="1180.01" y2="46.44" stroke-width="1.7"/>
<line x1="1174.61" y1="54.31" x2="1180.01" y2="54.31" stroke-width="1.7"/>
</g>
<line x1="932.07" y1="163.28" x2="932.07" y2="203.46" stroke="#98cf98" stroke-width="1.3"/>
<g stroke="#2ca02c" stroke-opacity="0.85">
<line x1="929.37" y1="163.28" x2="934.77" y2="163.28" stroke-width="1.7"/>
<line x1="929.37" y1="203.46" x2="934.77" y2="203.46" stroke-width="1.7"/>
</g>
<line x1="952.51" y1="154.49" x2="952.51" y2="176.02" stroke="#98cf98" stroke-width="1.3"/>
<g stroke="#2ca02c" stroke-opacity="0.85">
<line x1="949.81" y1="154.49" x2="955.21" y2="154.49" stroke-width="1.7"/>
<line x1="949.81" y1="176.02" x2="955.21" y2="176.02" stroke-width="1.7"/>
</g>
<line x1="972.95" y1="120.74" x2="972.95" y2="174.31" stroke="#98cf98" stroke-width="1.3"/>
<g stroke="#2ca02c" stroke-opacity="0.85">
<line x1="970.25" y1="120.74" x2="975.65" y2="120.74" stroke-width="1.7"/>
<line x1="970.25" y1="174.31" x2="975.65" y2="174.31" stroke-width="1.7"/>
</g>
<line x1="993.38" y1="102.50" x2="993.38" y2="137.42" stroke="#98cf98" stroke-width="1.3"/>
<g stroke="#2ca02c" stroke-opacity="0.85">
<line x1="990.68" y1="102.50" x2="996.08" y2="102.50" stroke-width="1.7"/>
<line x1="990.68" y1="137.42" x2="996.08" y2="137.42" stroke-width="1.7"/>
</g>
<line x1="1013.82" y1="82.28" x2="1013.82" y2="115.10" stroke="#98cf98" stroke-width="1.3"/>
<g stroke="#2ca02c" stroke-opacity="0.85">
<line x1="1011.12" y1="82.28" x2="1016.52" y2="82.28" stroke-width="1.7"/>
<line x1="1011.12" y1="115.10" x2="1016.52" y2="115.10" stroke-width="1.7"/>
</g>
<line x1="1054.69" y1="73.09" x2="1054.69" y2="90.94" stroke="#98cf98" stroke-width="1.3"/>
<g stroke="#2ca02c" stroke-opacity="0.85">
<line x1="1051.99" y1="73.09" x2="1057.39" y2="73.09" stroke-width="1.7"/>
<line x1="1051.99" y1="90.94" x2="1057.39" y2="90.94" stroke-width="1.7"/>
</g>
<line x1="1095.56" y1="64.42" x2="1095.56" y2="83.33" stroke="#98cf98" stroke-width="1.3"/>
<g stroke="#2ca02c" stroke-opacity="0.85">
<line x1="1092.86" y1="64.42" x2="1098.26" y2="64.42" stroke-width="1.7"/>
<line x1="1092.86" y1="83.33" x2="1098.26" y2="83.33" stroke-width="1.7"/>
</g>
<line x1="1136.44" y1="46.30" x2="1136.44" y2="70.99" stroke="#98cf98" stroke-width="1.3"/>
<g stroke="#2ca02c" stroke-opacity="0.85">
<line x1="1133.74" y1="46.30" x2="1139.14" y2="46.30" stroke-width="1.7"/>
<line x1="1133.74" y1="70.99" x2="1139.14" y2="70.99" stroke-width="1.7"/>
</g>
<line x1="1177.31" y1="44.33" x2="1177.31" y2="52.21" stroke="#98cf98" stroke-width="1.3"/>
<g stroke="#2ca02c" stroke-opacity="0.85">
<line x1="1174.61" y1="44.33" x2="1180.01" y2="44.33" stroke-width="1.7"/>
<line x1="1174.61" y1="52.21" x2="1180.01" y2="52.21" stroke-width="1.7"/>
</g>
<polyline points="911.64,228.01 932.07,165.25 952.51,137.42 972.95,121.53 993.38,108.14 1013.82,82.54 1054.69,69.41 1095.56,59.96 1136.44,49.06 1177.31,38.69 1218.18,30.68" fill="none" stroke="#1f77b4" stroke-width="2" stroke-linejoin="round"/>
<rect x="907.64" y="224.01" width="8.00" height="8.00" fill="#1f77b4"/>
<rect x="928.07" y="161.25" width="8.00" height="8.00" fill="#1f77b4"/>
<rect x="948.51" y="133.42" width="8.00" height="8.00" fill="#1f77b4"/>
<rect x="968.95" y="117.53" width="8.00" height="8.00" fill="#1f77b4"/>
<rect x="989.38" y="104.14" width="8.00" height="8.00" fill="#1f77b4"/>
<rect x="1009.82" y="78.54" width="8.00" height="8.00" fill="#1f77b4"/>
<rect x="1050.69" y="65.41" width="8.00" height="8.00" fill="#1f77b4"/>
<rect x="1091.56" y="55.96" width="8.00" height="8.00" fill="#1f77b4"/>
<rect x="1132.44" y="45.06" width="8.00" height="8.00" fill="#1f77b4"/>
<rect x="1173.31" y="34.69" width="8.00" height="8.00" fill="#1f77b4"/>
<rect x="1214.18" y="26.68" width="8.00" height="8.00" fill="#1f77b4"/>
<polyline points="911.64,289.98 932.07,174.31 952.51,154.22 972.95,134.00 993.38,109.85 1013.82,95.54 1054.69,79.52 1095.56,66.26 1136.44,62.45 1177.31,50.37 1218.18,50.37" fill="none" stroke="#ff7f0e" stroke-width="2" stroke-linejoin="round"/>
<circle cx="911.64" cy="289.98" r="4.30" fill="#ff7f0e"/>
<circle cx="932.07" cy="174.31" r="4.30" fill="#ff7f0e"/>
<circle cx="952.51" cy="154.22" r="4.30" fill="#ff7f0e"/>
<circle cx="972.95" cy="134.00" r="4.30" fill="#ff7f0e"/>
<circle cx="993.38" cy="109.85" r="4.30" fill="#ff7f0e"/>
<circle cx="1013.82" cy="95.54" r="4.30" fill="#ff7f0e"/>
<circle cx="1054.69" cy="79.52" r="4.30" fill="#ff7f0e"/>
<circle cx="1095.56" cy="66.26" r="4.30" fill="#ff7f0e"/>
<circle cx="1136.44" cy="62.45" r="4.30" fill="#ff7f0e"/>
<circle cx="1177.31" cy="50.37" r="4.30" fill="#ff7f0e"/>
<circle cx="1218.18" cy="50.37" r="4.30" fill="#ff7f0e"/>
<polyline points="911.64,244.02 932.07,183.37 952.51,165.25 972.95,147.53 993.38,119.96 1013.82,98.69 1054.69,82.01 1095.56,73.87 1136.44,58.64 1177.31,48.27 1218.18,42.89" fill="none" stroke="#2ca02c" stroke-width="2" stroke-linejoin="round"/>
<polygon points="911.64,239.52 907.14,248.52 916.14,248.52" fill="#2ca02c"/>
<polygon points="932.07,178.87 927.57,187.87 936.57,187.87" fill="#2ca02c"/>
<polygon points="952.51,160.75 948.01,169.75 957.01,169.75" fill="#2ca02c"/>
<polygon points="972.95,143.03 968.45,152.03 977.45,152.03" fill="#2ca02c"/>
<polygon points="993.38,115.46 988.88,124.46 997.88,124.46" fill="#2ca02c"/>
<polygon points="1013.82,94.19 1009.32,103.19 1018.32,103.19" fill="#2ca02c"/>
<polygon points="1054.69,77.51 1050.19,86.51 1059.19,86.51" fill="#2ca02c"/>
<polygon points="1095.56,69.37 1091.06,78.37 1100.06,78.37" fill="#2ca02c"/>
<polygon points="1136.44,54.14 1131.94,63.14 1140.94,63.14" fill="#2ca02c"/>
<polygon points="1177.31,43.77 1172.81,52.77 1181.81,52.77" fill="#2ca02c"/>
<polygon points="1218.18,38.39 1213.68,47.39 1222.68,47.39" fill="#2ca02c"/>
<rect x="1101.70" y="237.60" width="119.50" height="62.40" fill="#fff" stroke="#000" stroke-width="1.5"/>
<line x1="1106.40" y1="248.50" x2="1136.10" y2="248.50" stroke="#1f77b4" stroke-width="2"/>
<line x1="1121.10" y1="241.50" x2="1121.10" y2="255.50" stroke="#94bcda" stroke-width="1.3"/>
<g stroke="#1f77b4" stroke-opacity="0.85"><line x1="1118.90" y1="241.50" x2="1123.30" y2="241.50" stroke-width="1.7"/><line x1="1118.90" y1="255.50" x2="1123.30" y2="255.50" stroke-width="1.7"/></g>
<rect x="1117.30" y="244.70" width="7.60" height="7.60" fill="#1f77b4"/>
<text x="1146.00" y="253.10" font-size="13.8" text-anchor="start" fill="#000">AbAgIntPre</text>
<line x1="1106.40" y1="267.90" x2="1136.10" y2="267.90" stroke="#ff7f0e" stroke-width="2"/>
<line x1="1121.10" y1="260.90" x2="1121.10" y2="274.90" stroke="#fdbf8c" stroke-width="1.3"/>
<g stroke="#ff7f0e" stroke-opacity="0.85"><line x1="1118.90" y1="260.90" x2="1123.30" y2="260.90" stroke-width="1.7"/><line x1="1118.90" y1="274.90" x2="1123.30" y2="274.90" stroke-width="1.7"/></g>
<circle cx="1121.10" cy="267.90" r="4.10" fill="#ff7f0e"/>
<text x="1146.00" y="272.50" font-size="13.8" text-anchor="start" fill="#000">PIPR</text>
<line x1="1106.40" y1="287.30" x2="1136.10" y2="287.30" stroke="#2ca02c" stroke-width="2"/>
<line x1="1121.10" y1="280.30" x2="1121.10" y2="294.30" stroke="#98cf98" stroke-width="1.3"/>
<g stroke="#2ca02c" stroke-opacity="0.85"><line x1="1118.90" y1="280.30" x2="1123.30" y2="280.30" stroke-width="1.7"/><line x1="1118.90" y1="294.30" x2="1123.30" y2="294.30" stroke-width="1.7"/></g>
<polygon points="1121.10,283.00 1116.80,291.60 1125.40,291.60" fill="#2ca02c"/>
<text x="1146.00" y="291.90" font-size="13.8" text-anchor="start" fill="#000">MLP</text>
<line x1="932.07" y1="307.70" x2="932.07" y2="303.20" stroke="#000" stroke-width="1.8"/>
<line x1="932.07" y1="12.30" x2="932.07" y2="16.80" stroke="#000" stroke-width="1.8"/>
<line x1="972.95" y1="307.70" x2="972.95" y2="303.20" stroke="#000" stroke-width="1.8"/>
<line x1="972.95" y1="12.30" x2="972.95" y2="16.80" stroke="#000" stroke-width="1.8"/>
<line x1="1013.82" y1="307.70" x2="1013.82" y2="303.20" stroke="#000" stroke-width="1.8"/>
<line x1="1013.82" y1="12.30" x2="1013.82" y2="16.80" stroke="#000" stroke-width="1.8"/>
<line x1="1054.69" y1="307.70" x2="1054.69" y2="303.20" stroke="#000" stroke-width="1.8"/>
<line x1="1054.69" y1="12.30" x2="1054.69" y2="16.80" stroke="#000" stroke-width="1.8"/>
<line x1="1095.56" y1="307.70" x2="1095.56" y2="303.20" stroke="#000" stroke-width="1.8"/>
<line x1="1095.56" y1="12.30" x2="1095.56" y2="16.80" stroke="#000" stroke-width="1.8"/>
<line x1="1136.44" y1="307.70" x2="1136.44" y2="303.20" stroke="#000" stroke-width="1.8"/>
<line x1="1136.44" y1="12.30" x2="1136.44" y2="16.80" stroke="#000" stroke-width="1.8"/>
<line x1="1177.31" y1="307.70" x2="1177.31" y2="303.20" stroke="#000" stroke-width="1.8"/>
<line x1="1177.31" y1="12.30" x2="1177.31" y2="16.80" stroke="#000" stroke-width="1.8"/>
<line x1="1218.18" y1="307.70" x2="1218.18" y2="303.20" stroke="#000" stroke-width="1.8"/>
<line x1="1218.18" y1="12.30" x2="1218.18" y2="16.80" stroke="#000" stroke-width="1.8"/>
<line x1="891.20" y1="242.06" x2="895.70" y2="242.06" stroke="#000" stroke-width="1.8"/>
<line x1="1228.40" y1="242.06" x2="1223.90" y2="242.06" stroke="#000" stroke-width="1.8"/>
<line x1="891.20" y1="176.41" x2="895.70" y2="176.41" stroke="#000" stroke-width="1.8"/>
<line x1="1228.40" y1="176.41" x2="1223.90" y2="176.41" stroke="#000" stroke-width="1.8"/>
<line x1="891.20" y1="110.77" x2="895.70" y2="110.77" stroke="#000" stroke-width="1.8"/>
<line x1="1228.40" y1="110.77" x2="1223.90" y2="110.77" stroke="#000" stroke-width="1.8"/>
<line x1="891.20" y1="45.12" x2="895.70" y2="45.12" stroke="#000" stroke-width="1.8"/>
<line x1="1228.40" y1="45.12" x2="1223.90" y2="45.12" stroke="#000" stroke-width="1.8"/>
<rect x="891.20" y="12.30" width="337.20" height="295.40" fill="none" stroke="#000" stroke-width="2"/>
<text x="891.20" y="322.60" font-size="14" text-anchor="middle" fill="#000">0</text>
<text x="932.07" y="322.60" font-size="14" text-anchor="middle" fill="#000">2</text>
<text x="972.95" y="322.60" font-size="14" text-anchor="middle" fill="#000">4</text>
<text x="1013.82" y="322.60" font-size="14" text-anchor="middle" fill="#000">6</text>
<text x="1054.69" y="322.60" font-size="14" text-anchor="middle" fill="#000">8</text>
<text x="1095.56" y="322.60" font-size="14" text-anchor="middle" fill="#000">10</text>
<text x="1136.44" y="322.60" font-size="14" text-anchor="middle" fill="#000">12</text>
<text x="1177.31" y="322.60" font-size="14" text-anchor="middle" fill="#000">14</text>
<text x="1218.18" y="322.60" font-size="14" text-anchor="middle" fill="#000">16</text>
<text x="885.20" y="312.11" font-size="14" text-anchor="end" fill="#000">0.70</text>
<text x="885.20" y="246.47" font-size="14" text-anchor="end" fill="#000">0.75</text>
<text x="885.20" y="180.82" font-size="14" text-anchor="end" fill="#000">0.80</text>
<text x="885.20" y="115.18" font-size="14" text-anchor="end" fill="#000">0.85</text>
<text x="885.20" y="49.53" font-size="14" text-anchor="end" fill="#000">0.90</text>
<text x="1059.80" y="343.80" font-size="15.5" text-anchor="middle" fill="#000">#Antigen Types</text>
<text x="850.00" y="161.30" font-size="15.5" text-anchor="middle" fill="#000" transform="rotate(-90 850.00 161.30)">F1-score</text>
<line x1="320.50" y1="393.00" x2="320.50" y2="673.40" stroke="#d6d6d6" stroke-width="0.9" stroke-dasharray="1.2 1.7"/>
<line x1="392.00" y1="393.00" x2="392.00" y2="673.40" stroke="#d6d6d6" stroke-width="0.9" stroke-dasharray="1.2 1.7"/>
<line x1="463.50" y1="393.00" x2="463.50" y2="673.40" stroke="#d6d6d6" stroke-width="0.9" stroke-dasharray="1.2 1.7"/>
<line x1="535.00" y1="393.00" x2="535.00" y2="673.40" stroke="#d6d6d6" stroke-width="0.9" stroke-dasharray="1.2 1.7"/>
<line x1="249.00" y1="618.42" x2="606.50" y2="618.42" stroke="#d6d6d6" stroke-width="0.9" stroke-dasharray="1.2 1.7"/>
<line x1="249.00" y1="563.44" x2="606.50" y2="563.44" stroke="#d6d6d6" stroke-width="0.9" stroke-dasharray="1.2 1.7"/>
<line x1="249.00" y1="508.46" x2="606.50" y2="508.46" stroke="#d6d6d6" stroke-width="0.9" stroke-dasharray="1.2 1.7"/>
<line x1="249.00" y1="453.48" x2="606.50" y2="453.48" stroke="#d6d6d6" stroke-width="0.9" stroke-dasharray="1.2 1.7"/>
<line x1="249.00" y1="398.50" x2="606.50" y2="398.50" stroke="#d6d6d6" stroke-width="0.9" stroke-dasharray="1.2 1.7"/>
<line x1="320.50" y1="673.40" x2="320.50" y2="668.90" stroke="#000" stroke-width="1.8"/>
<line x1="320.50" y1="393.00" x2="320.50" y2="397.50" stroke="#000" stroke-width="1.8"/>
<line x1="392.00" y1="673.40" x2="392.00" y2="668.90" stroke="#000" stroke-width="1.8"/>
<line x1="392.00" y1="393.00" x2="392.00" y2="397.50" stroke="#000" stroke-width="1.8"/>
<line x1="463.50" y1="673.40" x2="463.50" y2="668.90" stroke="#000" stroke-width="1.8"/>
<line x1="463.50" y1="393.00" x2="463.50" y2="397.50" stroke="#000" stroke-width="1.8"/>
<line x1="535.00" y1="673.40" x2="535.00" y2="668.90" stroke="#000" stroke-width="1.8"/>
<line x1="535.00" y1="393.00" x2="535.00" y2="397.50" stroke="#000" stroke-width="1.8"/>
<line x1="249.00" y1="618.42" x2="253.50" y2="618.42" stroke="#000" stroke-width="1.8"/>
<line x1="606.50" y1="618.42" x2="602.00" y2="618.42" stroke="#000" stroke-width="1.8"/>
<line x1="249.00" y1="563.44" x2="253.50" y2="563.44" stroke="#000" stroke-width="1.8"/>
<line x1="606.50" y1="563.44" x2="602.00" y2="563.44" stroke="#000" stroke-width="1.8"/>
<line x1="249.00" y1="508.46" x2="253.50" y2="508.46" stroke="#000" stroke-width="1.8"/>
<line x1="606.50" y1="508.46" x2="602.00" y2="508.46" stroke="#000" stroke-width="1.8"/>
<line x1="249.00" y1="453.48" x2="253.50" y2="453.48" stroke="#000" stroke-width="1.8"/>
<line x1="606.50" y1="453.48" x2="602.00" y2="453.48" stroke="#000" stroke-width="1.8"/>
<line x1="249.00" y1="398.50" x2="253.50" y2="398.50" stroke="#000" stroke-width="1.8"/>
<line x1="606.50" y1="398.50" x2="602.00" y2="398.50" stroke="#000" stroke-width="1.8"/>
<svg x="249.00" y="393.00" width="357.50" height="280.40" viewBox="249.00 393.00 357.50 280.40" overflow="hidden">
<polyline points="249.10,398.40 257.40,398.80 258.10,406.10 263.90,403.20 271.20,401.30 279.90,400.30 287.20,401.30 295.90,400.70 306.10,402.20 317.70,402.40 335.10,402.70 354.00,402.20 375.90,401.70 384.60,402.20 397.70,403.90 412.20,406.50 420.00,407.40 428.70,408.90 437.40,411.80 449.10,416.90 463.60,422.00 472.30,424.20 479.60,427.80 482.50,430.70 491.20,435.80 499.20,443.80 503.60,452.50 507.20,467.10 510.00,480.00 512.90,493.00 516.00,508.30 518.10,530.00 521.80,555.10 523.40,568.50 525.90,576.90 531.00,593.60 535.10,610.30 543.50,623.70 553.60,633.80 562.80,640.50 585.00,651.30 604.90,662.00" fill="none" stroke="#1f77b4" stroke-width="2" stroke-linejoin="round"/>
<polyline points="249.10,398.40 285.70,398.80 291.50,403.20 306.10,406.10 322.10,406.80 326.40,408.00 346.80,408.60 368.60,409.00 384.60,409.00 400.60,410.00 409.30,413.40 420.00,415.90 453.40,415.00 463.60,416.50 465.80,418.40 470.90,436.50 474.50,454.00 476.10,470.00 478.40,485.30 481.40,508.30 486.80,525.20 494.50,539.00 499.10,551.30 500.50,555.00 503.30,571.80 510.00,588.60 515.10,598.60 526.80,617.00 536.80,625.40 550.20,635.40 563.60,640.50 580.00,648.80 585.00,651.30 604.90,661.30" fill="none" stroke="#ff7f0e" stroke-width="2" stroke-linejoin="round"/>
<polyline points="249.10,398.40 288.60,398.40 303.20,400.70 332.20,403.20 361.30,404.60 365.70,406.80 378.80,409.00 381.70,412.60 391.80,414.10 399.10,414.80 412.20,415.80 420.00,416.20 422.90,419.10 434.50,421.30 449.10,425.60 454.90,429.30 463.60,433.60 475.20,436.50 486.90,440.20 492.70,446.00 500.70,456.90 503.60,467.10 505.20,477.70 511.40,491.50 515.20,508.30 518.10,530.00 521.80,551.80 524.30,563.50 529.30,575.20 536.00,583.60 541.00,597.00 548.50,610.30 555.20,623.70 559.40,633.80 562.80,640.50 570.30,645.50 580.00,650.00 588.10,654.40 604.90,662.80" fill="none" stroke="#2ca02c" stroke-width="2" stroke-linejoin="round"/>
</svg>
<rect x="254.80" y="607.60" width="185.80" height="59.10" fill="#fff" stroke="#000" stroke-width="1.5"/>
<line x1="259.40" y1="618.30" x2="287.20" y2="618.30" stroke="#1f77b4" stroke-width="1.8"/>
<text x="296.80" y="622.50" font-size="12.9" text-anchor="start" fill="#000">AbAgIntPre: AUC=0.752</text>
<line x1="259.40" y1="636.60" x2="287.20" y2="636.60" stroke="#ff7f0e" stroke-width="1.8"/>
<text x="296.80" y="640.80" font-size="12.9" text-anchor="start" fill="#000">PIPR: AUC=0.695</text>
<line x1="259.40" y1="654.90" x2="287.20" y2="654.90" stroke="#2ca02c" stroke-width="1.8"/>
<text x="296.80" y="659.10" font-size="12.9" text-anchor="start" fill="#000">MLP: AUC=0.744</text>
<rect x="249.00" y="393.00" width="357.50" height="280.40" fill="none" stroke="#000" stroke-width="2"/>
<text x="249.00" y="689.40" font-size="14.3" text-anchor="middle" fill="#000">0.0</text>
<text x="320.50" y="689.40" font-size="14.3" text-anchor="middle" fill="#000">0.2</text>
<text x="392.00" y="689.40" font-size="14.3" text-anchor="middle" fill="#000">0.4</text>
<text x="463.50" y="689.40" font-size="14.3" text-anchor="middle" fill="#000">0.6</text>
<text x="535.00" y="689.40" font-size="14.3" text-anchor="middle" fill="#000">0.8</text>
<text x="606.50" y="689.40" font-size="14.3" text-anchor="middle" fill="#000">1.0</text>
<text x="243.10" y="677.90" font-size="14.3" text-anchor="end" fill="#000">0.0</text>
<text x="243.10" y="622.92" font-size="14.3" text-anchor="end" fill="#000">0.2</text>
<text x="243.10" y="567.94" font-size="14.3" text-anchor="end" fill="#000">0.4</text>
<text x="243.10" y="512.96" font-size="14.3" text-anchor="end" fill="#000">0.6</text>
<text x="243.10" y="457.98" font-size="14.3" text-anchor="end" fill="#000">0.8</text>
<text x="243.10" y="403.00" font-size="14.3" text-anchor="end" fill="#000">1.0</text>
<text x="424.75" y="382.00" font-size="17.8" text-anchor="middle" fill="#000">#Antigen Types = 1</text>
<text x="427.75" y="709.00" font-size="14.8" text-anchor="middle" fill="#000">Recall</text>
<text x="214.80" y="534.20" font-size="14.8" text-anchor="middle" fill="#000" transform="rotate(-90 214.80 534.20)">Precision</text>
<line x1="746.50" y1="393.00" x2="746.50" y2="673.40" stroke="#d6d6d6" stroke-width="0.9" stroke-dasharray="1.2 1.7"/>
<line x1="818.00" y1="393.00" x2="818.00" y2="673.40" stroke="#d6d6d6" stroke-width="0.9" stroke-dasharray="1.2 1.7"/>
<line x1="889.50" y1="393.00" x2="889.50" y2="673.40" stroke="#d6d6d6" stroke-width="0.9" stroke-dasharray="1.2 1.7"/>
<line x1="961.00" y1="393.00" x2="961.00" y2="673.40" stroke="#d6d6d6" stroke-width="0.9" stroke-dasharray="1.2 1.7"/>
<line x1="675.00" y1="618.42" x2="1032.50" y2="618.42" stroke="#d6d6d6" stroke-width="0.9" stroke-dasharray="1.2 1.7"/>
<line x1="675.00" y1="563.44" x2="1032.50" y2="563.44" stroke="#d6d6d6" stroke-width="0.9" stroke-dasharray="1.2 1.7"/>
<line x1="675.00" y1="508.46" x2="1032.50" y2="508.46" stroke="#d6d6d6" stroke-width="0.9" stroke-dasharray="1.2 1.7"/>
<line x1="675.00" y1="453.48" x2="1032.50" y2="453.48" stroke="#d6d6d6" stroke-width="0.9" stroke-dasharray="1.2 1.7"/>
<line x1="675.00" y1="398.50" x2="1032.50" y2="398.50" stroke="#d6d6d6" stroke-width="0.9" stroke-dasharray="1.2 1.7"/>
<line x1="746.50" y1="673.40" x2="746.50" y2="668.90" stroke="#000" stroke-width="1.8"/>
<line x1="746.50" y1="393.00" x2="746.50" y2="397.50" stroke="#000" stroke-width="1.8"/>
<line x1="818.00" y1="673.40" x2="818.00" y2="668.90" stroke="#000" stroke-width="1.8"/>
<line x1="818.00" y1="393.00" x2="818.00" y2="397.50" stroke="#000" stroke-width="1.8"/>
<line x1="889.50" y1="673.40" x2="889.50" y2="668.90" stroke="#000" stroke-width="1.8"/>
<line x1="889.50" y1="393.00" x2="889.50" y2="397.50" stroke="#000" stroke-width="1.8"/>
<line x1="961.00" y1="673.40" x2="961.00" y2="668.90" stroke="#000" stroke-width="1.8"/>
<line x1="961.00" y1="393.00" x2="961.00" y2="397.50" stroke="#000" stroke-width="1.8"/>
<line x1="675.00" y1="618.42" x2="679.50" y2="618.42" stroke="#000" stroke-width="1.8"/>
<line x1="1032.50" y1="618.42" x2="1028.00" y2="618.42" stroke="#000" stroke-width="1.8"/>
<line x1="675.00" y1="563.44" x2="679.50" y2="563.44" stroke="#000" stroke-width="1.8"/>
<line x1="1032.50" y1="563.44" x2="1028.00" y2="563.44" stroke="#000" stroke-width="1.8"/>
<line x1="675.00" y1="508.46" x2="679.50" y2="508.46" stroke="#000" stroke-width="1.8"/>
<line x1="1032.50" y1="508.46" x2="1028.00" y2="508.46" stroke="#000" stroke-width="1.8"/>
<line x1="675.00" y1="453.48" x2="679.50" y2="453.48" stroke="#000" stroke-width="1.8"/>
<line x1="1032.50" y1="453.48" x2="1028.00" y2="453.48" stroke="#000" stroke-width="1.8"/>
<line x1="675.00" y1="398.50" x2="679.50" y2="398.50" stroke="#000" stroke-width="1.8"/>
<line x1="1032.50" y1="398.50" x2="1028.00" y2="398.50" stroke="#000" stroke-width="1.8"/>
<svg x="675.00" y="393.00" width="357.50" height="280.40" viewBox="675.00 393.00 357.50 280.40" overflow="hidden">
<polyline points="675.00,399.00 930.00,399.80 961.30,400.70 971.00,402.70 980.80,407.60 988.00,412.50 994.00,420.00 999.50,431.20 1006.50,453.50 1012.10,470.20 1016.30,492.60 1019.10,514.90 1021.30,537.20 1023.30,559.50 1026.10,598.60 1027.40,620.00 1031.50,662.90" fill="none" stroke="#1f77b4" stroke-width="2" stroke-linejoin="round"/>
<polyline points="675.50,402.50 680.00,400.30 690.00,399.50 930.00,399.80 961.30,400.70 971.00,403.70 978.80,413.40 984.20,420.00 992.60,447.90 998.10,475.80 1000.90,498.10 1003.70,526.00 1007.90,551.20 1013.50,576.30 1021.90,598.60 1026.10,615.40 1031.50,662.90" fill="none" stroke="#ff7f0e" stroke-width="2" stroke-linejoin="round"/>
<polyline points="675.00,398.80 930.00,399.80 961.30,400.70 971.00,403.70 980.80,411.50 985.60,420.00 992.60,436.70 999.50,456.30 1006.50,478.60 1013.50,509.30 1017.70,531.60 1021.90,559.50 1024.70,587.40 1027.40,620.00 1031.50,662.90" fill="none" stroke="#2ca02c" stroke-width="2" stroke-linejoin="round"/>
</svg>
<rect x="680.80" y="607.60" width="185.80" height="59.10" fill="#fff" stroke="#000" stroke-width="1.5"/>
<line x1="685.40" y1="618.30" x2="713.20" y2="618.30" stroke="#1f77b4" stroke-width="1.8"/>
<text x="722.80" y="622.50" font-size="12.9" text-anchor="start" fill="#000">AbAgIntPre: AUC=0.952</text>
<line x1="685.40" y1="636.60" x2="713.20" y2="636.60" stroke="#ff7f0e" stroke-width="1.8"/>
<text x="722.80" y="640.80" font-size="12.9" text-anchor="start" fill="#000">PIPR: AUC=0.927</text>
<line x1="685.40" y1="654.90" x2="713.20" y2="654.90" stroke="#2ca02c" stroke-width="1.8"/>
<text x="722.80" y="659.10" font-size="12.9" text-anchor="start" fill="#000">MLP: AUC=0.944</text>
<rect x="675.00" y="393.00" width="357.50" height="280.40" fill="none" stroke="#000" stroke-width="2"/>
<text x="675.00" y="689.40" font-size="14.3" text-anchor="middle" fill="#000">0.0</text>
<text x="746.50" y="689.40" font-size="14.3" text-anchor="middle" fill="#000">0.2</text>
<text x="818.00" y="689.40" font-size="14.3" text-anchor="middle" fill="#000">0.4</text>
<text x="889.50" y="689.40" font-size="14.3" text-anchor="middle" fill="#000">0.6</text>
<text x="961.00" y="689.40" font-size="14.3" text-anchor="middle" fill="#000">0.8</text>
<text x="1032.50" y="689.40" font-size="14.3" text-anchor="middle" fill="#000">1.0</text>
<text x="669.10" y="677.90" font-size="14.3" text-anchor="end" fill="#000">0.0</text>
<text x="669.10" y="622.92" font-size="14.3" text-anchor="end" fill="#000">0.2</text>
<text x="669.10" y="567.94" font-size="14.3" text-anchor="end" fill="#000">0.4</text>
<text x="669.10" y="512.96" font-size="14.3" text-anchor="end" fill="#000">0.6</text>
<text x="669.10" y="457.98" font-size="14.3" text-anchor="end" fill="#000">0.8</text>
<text x="669.10" y="403.00" font-size="14.3" text-anchor="end" fill="#000">1.0</text>
<text x="853.75" y="382.00" font-size="17.8" text-anchor="middle" fill="#000">#Antigen Types = 16</text>
<text x="853.75" y="709.00" font-size="14.8" text-anchor="middle" fill="#000">Recall</text>
<text x="640.80" y="534.20" font-size="14.8" text-anchor="middle" fill="#000" transform="rotate(-90 640.80 534.20)">Precision</text>
<text x="5.60" y="25.00" font-size="25" text-anchor="start" fill="#000">(a)</text>
<text x="187.50" y="387.50" font-size="25" text-anchor="start" fill="#000">(b)</text>
</svg>
</body></html>
